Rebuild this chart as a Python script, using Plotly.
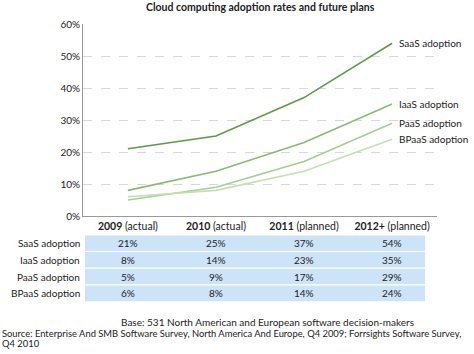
import plotly.graph_objects as go

categories = ["2009", "2010", "2011", "2012+"]
cat_notes = ["(actual)", "(actual)", "(planned)", "(planned)"]
series_names = ["SaaS adoption", "IaaS adoption", "PaaS adoption", "BPaaS adoption"]
saas = [21, 25, 37, 54]
iaas = [8, 14, 23, 35]
paas = [5, 9, 17, 29]
bpaas = [6, 8, 14, 24]
y_ticks = [0, 10, 20, 30, 40, 50, 60]

series_values = [saas, iaas, paas, bpaas]
colors = ["#5f9a48", "#88ba75", "#a7cd94", "#c5deb5"]

FONT = "Lato"
W, H = 474, 354
L, R = 83, 437
T, B = 23.5, 216

def px(X):
    return (X - L) / (R - L)

def py(Y):
    return (B - Y) / (B - T)

xs = list(range(len(categories)))
fig = go.Figure()
for name, vals, c in zip(series_names, series_values, colors):
    fig.add_trace(go.Scatter(x=xs, y=vals, mode="lines", name=name,
                             line=dict(color=c, width=1.6), showlegend=False,
                             hoverinfo="skip"))

annotations = []
# end labels
for name, vals in zip(series_names, series_values):
    annotations.append(dict(x=xs[-1], y=vals[-1], xref="x", yref="y", text=name,
                            showarrow=False, xanchor="left", yanchor="middle",
                            xshift=5, font=dict(size=10, color="#222", family=FONT)))

shapes = []
# table background
row_y = [243.3, 260, 276.7, 293.3]
shapes.append(dict(type="rect", xref="paper", yref="paper", x0=px(85), x1=px(425),
                   y0=py(235.5), y1=py(301.5), fillcolor="#cde3f7", line=dict(width=0),
                   layer="below"))
for sy in [251.6, 268.3, 285.0]:
    shapes.append(dict(type="line", xref="paper", yref="paper", x0=px(85), x1=px(425),
                       y0=py(sy), y1=py(sy), line=dict(color="white", width=1.2)))

for ri, (name, vals) in enumerate(zip(series_names, series_values)):
    annotations.append(dict(x=px(81.5), y=py(row_y[ri]), xref="paper", yref="paper",
                            text=name, showarrow=False, xanchor="right", yanchor="middle",
                            font=dict(size=10, color="#222", family=FONT)))
    for ci, v in enumerate(vals):
        annotations.append(dict(x=xs[ci], y=py(row_y[ri]), xref="x", yref="paper",
                                text=f"{v}%", showarrow=False, xanchor="center",
                                yanchor="middle", font=dict(size=10, color="#222", family=FONT)))

annotations.append(dict(x=0.5, y=1 + (T - 6) / (B - T) , xref="paper", yref="paper",
                        text="<b>Cloud computing adoption rates and future plans</b>",
                        showarrow=False, xanchor="center", yanchor="middle",
                        font=dict(size=10.5, color="#222", family=FONT)))
annotations.append(dict(x=px(267), y=py(322), xref="paper", yref="paper",
                        text="Base: 531 North American and European software decision-makers",
                        showarrow=False, xanchor="center", yanchor="middle",
                        font=dict(size=10, color="#222", family=FONT)))
annotations.append(dict(x=px(0), y=py(334), xref="paper", yref="paper",
                        text="Source: Enterprise And SMB Software Survey, North America And Europe, Q4 2009; Forrsights Software Survey,",
                        showarrow=False, xanchor="left", yanchor="middle",
                        font=dict(size=9.4, color="#222", family=FONT)))
annotations.append(dict(x=px(0), y=py(344), xref="paper", yref="paper",
                        text="Q4 2010",
                        showarrow=False, xanchor="left", yanchor="middle",
                        font=dict(size=9.4, color="#222", family=FONT)))

fig.update_layout(
    width=W, height=H, paper_bgcolor="white", plot_bgcolor="white",
    margin=dict(l=L, r=W - R, t=T, b=H - B, pad=0),
    font=dict(family=FONT, size=10, color="#222"),
    annotations=annotations, shapes=shapes,
    xaxis=dict(range=[-0.51, 3.51], tickmode="array", tickvals=xs,
               ticktext=[f"<b>{c}</b> {n}" for c, n in zip(categories, cat_notes)],
               showgrid=False, zeroline=False, showline=True, linecolor="#999",
               linewidth=1, ticks="", tickfont=dict(size=10.5, family=FONT, color="#222")),
    yaxis=dict(range=[0, 60], tickmode="array", tickvals=y_ticks,
               ticktext=[f"{t}%" for t in y_ticks], showgrid=True,
               gridcolor="#d8d8d8", griddash="dash", gridwidth=1, zeroline=False,
               showline=True, linecolor="#999", linewidth=1, ticks="",
               tickfont=dict(size=10, family=FONT, color="#222")),
)
fig.write_html("out.html")
